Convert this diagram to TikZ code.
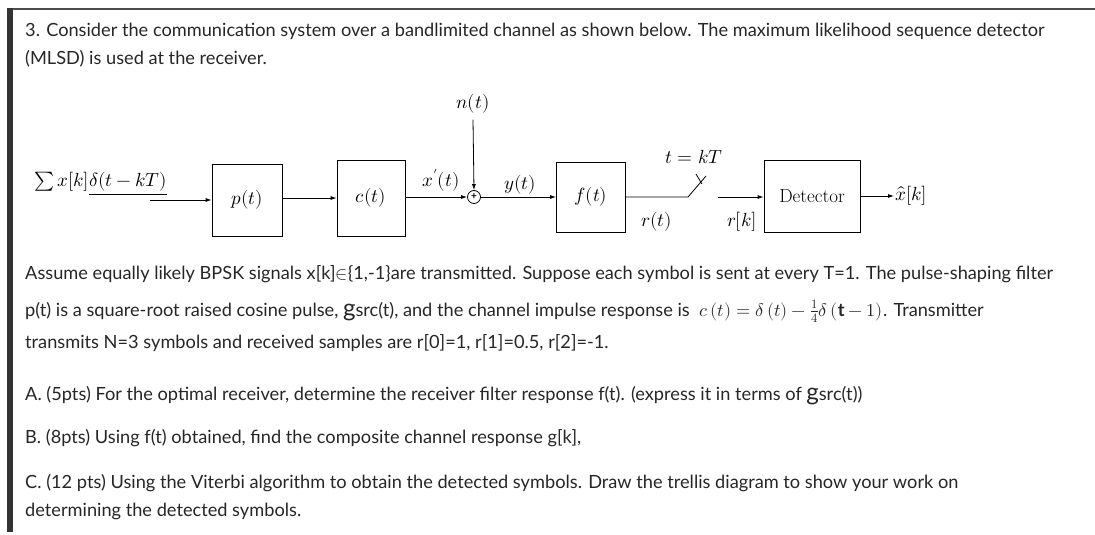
\documentclass[tikz,border=0pt]{standalone}
\usepackage{fontspec}
\setmainfont{Lato}
\usepackage{unicode-math}
\setmathfont{Latin Modern Math}
\usetikzlibrary{arrows.meta}
\begin{document}
\begin{tikzpicture}[x=1pt,y=-1pt,
  txt/.style={anchor=base west,inner sep=0,font=\fontsize{18.2}{21}\selectfont,text=black!85},
  blk/.style={draw,thick,minimum width=70pt,minimum height=72pt,inner sep=0,font=\fontsize{19}{22}\selectfont},
  lab/.style={inner sep=1pt,font=\fontsize{19}{22}\selectfont},
  sig/.style={thick,-{Latex[length=6pt,width=4pt]}}]
\useasboundingbox (0,0) rectangle (1095,535);
\fill[black!80] (7,8) rectangle (13,532);
\draw[black!70,line width=1.2pt] (13,9) -- (1095,9);
\node[txt] (l1) at (25,37) {3. Consider the communication system over a bandlimited channel as shown below. The maximum likelihood sequence detector};
\node[txt] (l2) at (25,64) {(MLSD) is used at the receiver.};
% diagram
\node[blk] (p) at (247,200) {$p(t)$};
\node[blk,minimum width=68pt,minimum height=76pt] (c) at (371,198) {$c(t)$};
\node[draw,thick,circle,minimum size=13pt,inner sep=0] (s) at (474,197) {};
\node[font=\bfseries\fontsize{10}{10}\selectfont,inner sep=0] (plus) at (s) {+};
\node[blk,minimum width=69pt,minimum height=70pt] (f) at (591,197) {$f(t)$};
\node[blk,minimum width=96pt,minimum height=72pt] (d) at (812,196) {\setmainfont{Latin Modern Roman}Detector};
\node[lab,anchor=west] (in) at (33,184) {$\sum x[k]\underline{\delta(t-kT)}$};
\coordinate (ins) at (150,200);
\draw[sig] (ins) -- (p.west |- ins);
\draw[sig] (p.east |- c) -- (c.west);
\draw[sig] (c.east |- s) -- (s.west);
\node[lab] (n) at (473,104) {$n(t)$};
\draw[sig] (n.south) ++(0,5) -- (s.north);
\draw[sig] (s.east) -- (f.west |- s);
\node[lab] (xp) at (441,180) {$x^{\prime}(t)$};
\node[lab] (y) at (520,185) {$y(t)$};
\coordinate (sw1) at (688,197);
\coordinate (sw2) at (706,176);
\draw[thick] (f.east |- sw1) -- (sw1) -- (sw2);
\draw[thick] (696,174) -- (702,184);
\coordinate (sw3) at (718,197);
\draw[sig] (sw3) -- (d.west |- sw3);
\node[lab] (tk) at (694,157) {$t=kT$};
\node[lab] (rt) at (657,222) {$r(t)$};
\node[lab] (rk) at (742,222) {$r[k]$};
\node[lab,anchor=west] (xh) at (894,196) {$\hat{x}[k]$};
\draw[sig] (d.east) -- (xh.west);
% text
\node[txt] (l3) at (25,279) {Assume equally likely BPSK signals x[k]$\in$\{1,-1\}are transmitted. Suppose each symbol is sent at every T=1. The pulse-shaping filter};
\node[txt] (l4) at (25,316) {p(t) is a square-root raised cosine pulse, {\fontsize{24}{24}\selectfont g}src(t), and the channel impulse response is \ $c\,(t)=\delta\,(t)-\frac{1}{4}\delta\,(\textbf{t}-1)$. Transmitter};
\node[txt] (l5) at (25,348) {transmits N=3 symbols and received samples are r[0]=1, r[1]=0.5, r[2]=-1.};
\node[txt] (l6) at (25,400) {A. (5pts) For the optimal receiver, determine the receiver filter response f(t). (express it in terms of {\fontsize{24}{24}\selectfont g}src(t))};
\node[txt] (l7) at (25,443) {B. (8pts) Using f(t) obtained, find the composite channel response g[k],};
\node[txt] (l8) at (25,488) {C. (12 pts) Using the Viterbi algorithm to obtain the detected symbols. Draw the trellis diagram to show your work on};
\node[txt] (l9) at (25,516) {determining the detected symbols.};
\end{tikzpicture}
\end{document}
